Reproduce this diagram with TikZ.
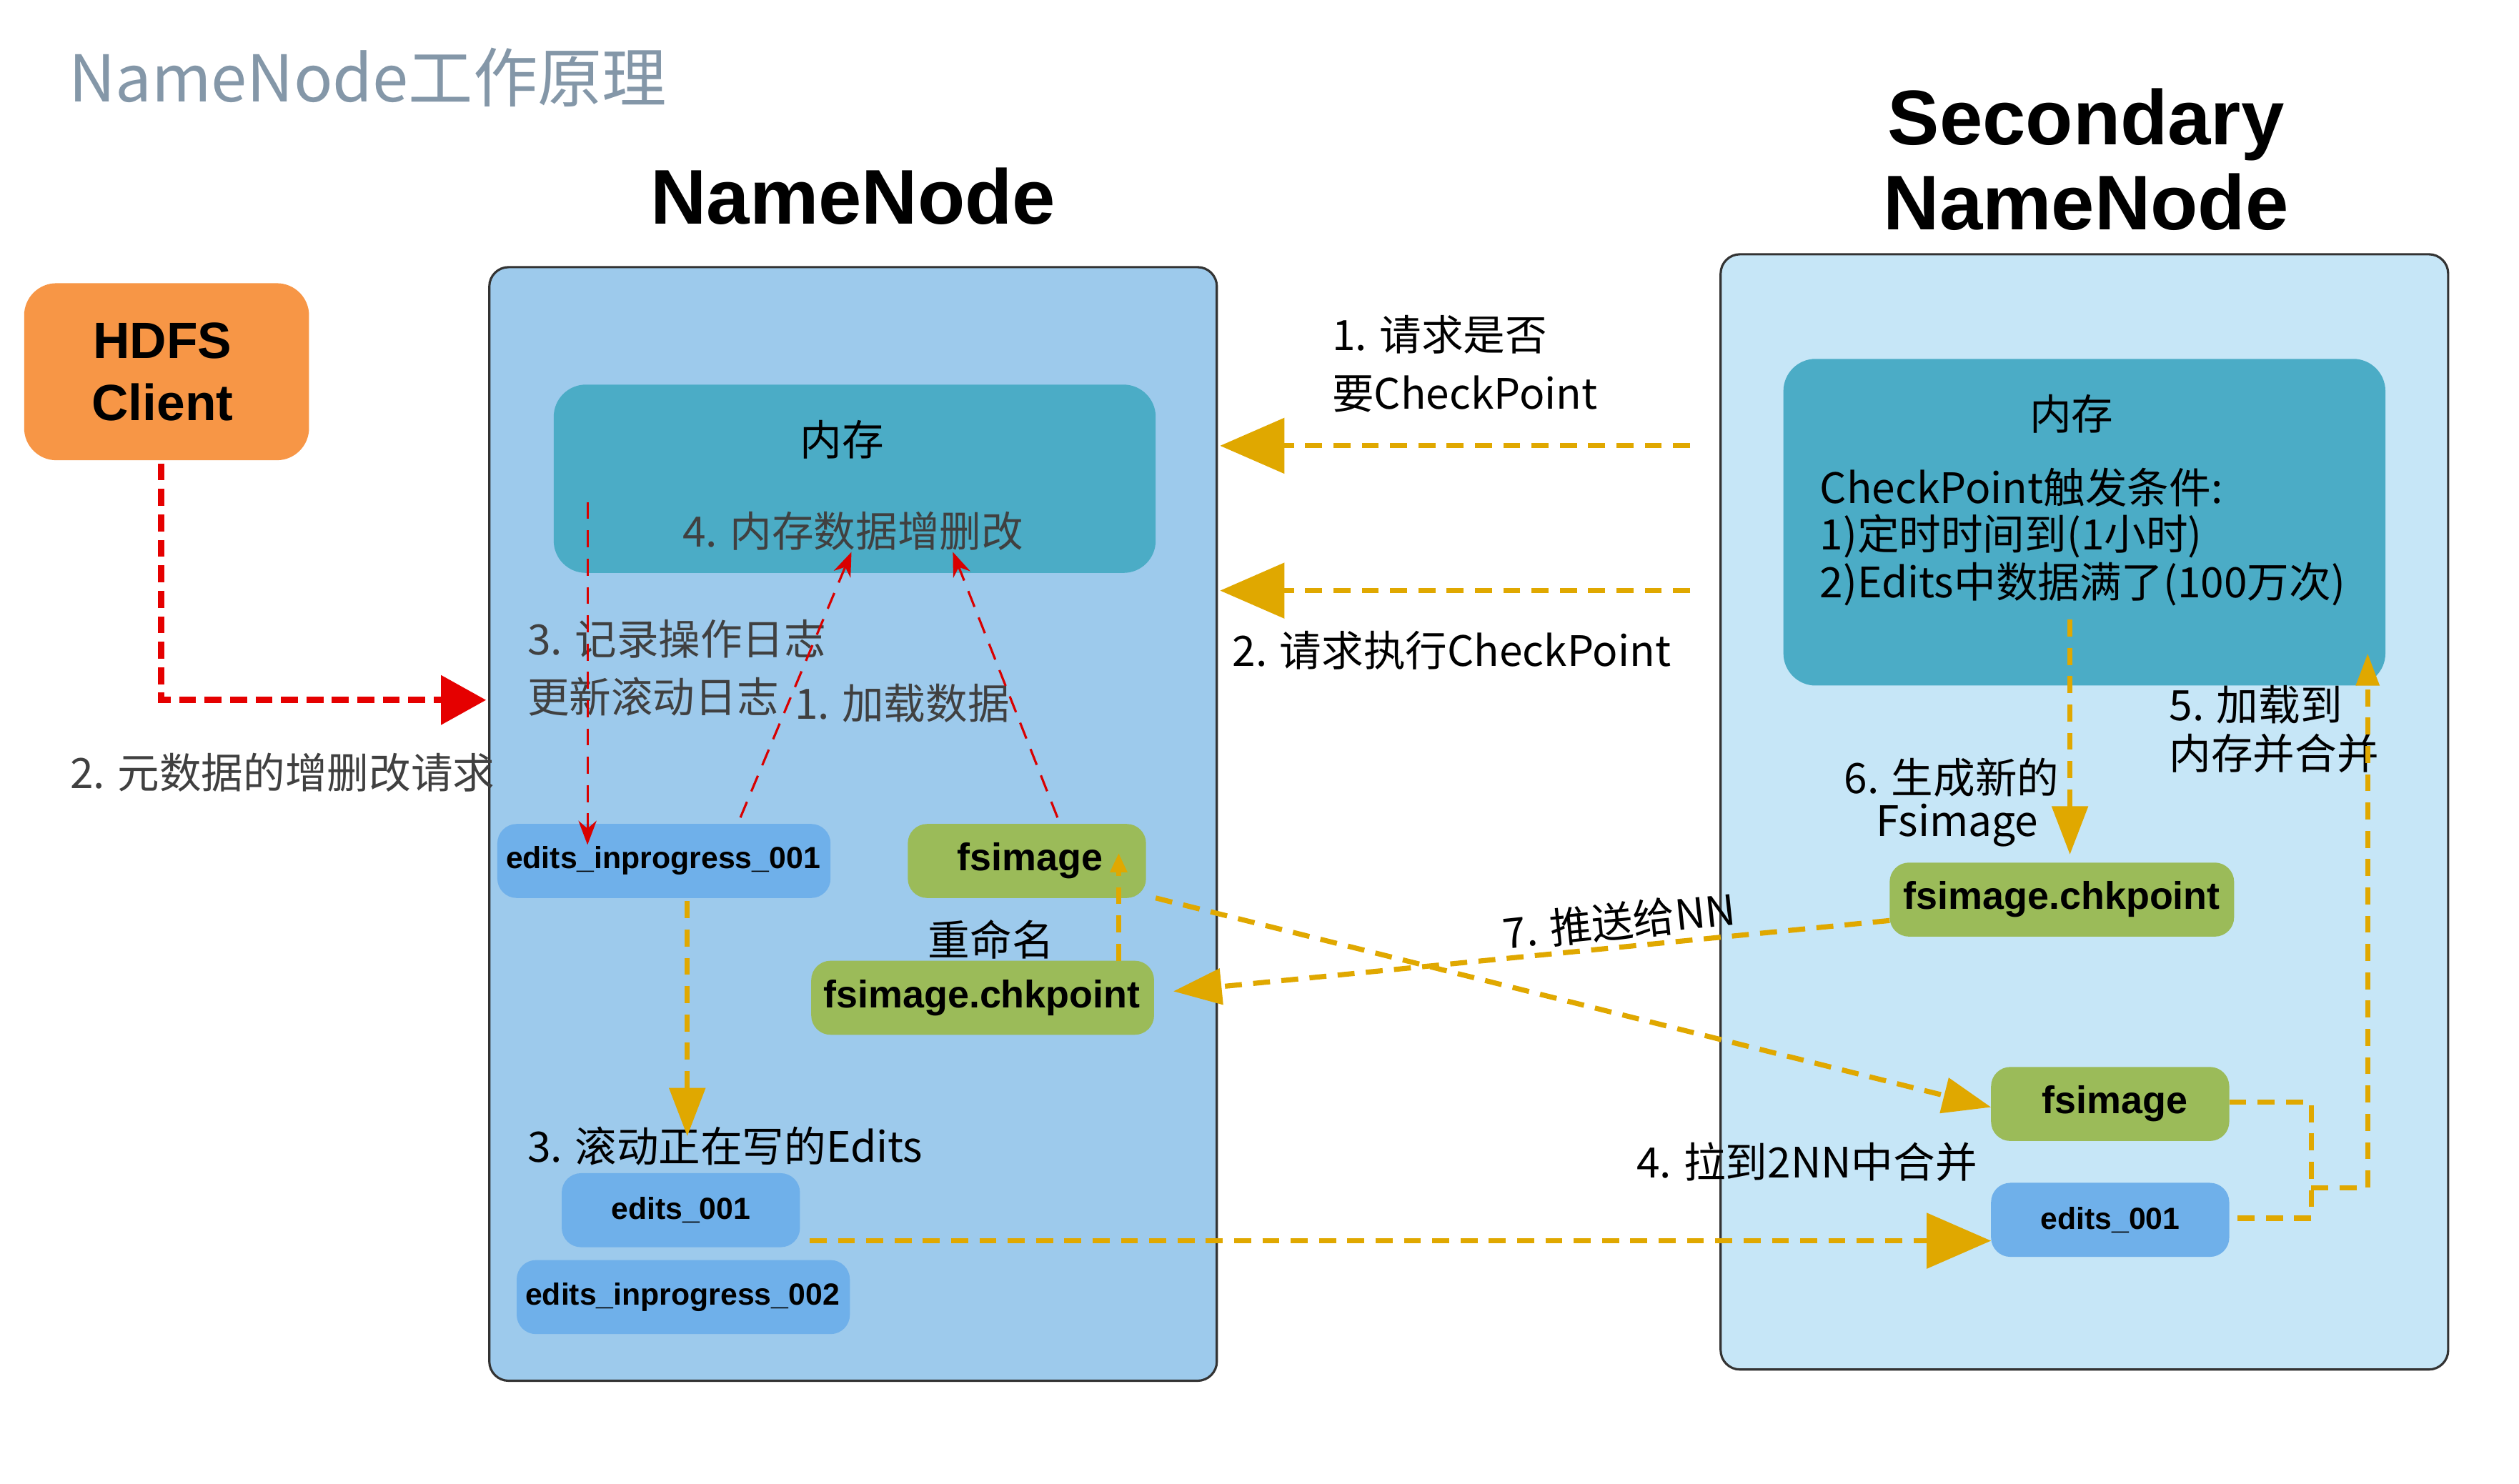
\documentclass[tikz,border=0pt]{standalone}
\usepackage{fontspec}
\setmainfont{Liberation Sans}
\newfontfamily\cjk{Noto Sans CJK SC}
\usetikzlibrary{arrows.meta}
\definecolor{nnbg}{HTML}{9DCAEC}
\definecolor{snbg}{HTML}{C6E6F7}
\definecolor{mem}{HTML}{4BACC6}
\definecolor{grn}{HTML}{9BBB59}
\definecolor{blu}{HTML}{6FB0EA}
\definecolor{org}{HTML}{F79646}
\definecolor{gold}{HTML}{E0A800}
\definecolor{ttl}{HTML}{8497A8}
\definecolor{dk}{HTML}{404040}
\tikzset{
 box/.style={rounded corners=0.12cm},
 lab/.style={font=\cjk\fontsize{7.4pt}{9pt}\selectfont, anchor=west, inner sep=0},
 glab/.style={lab, text=dk},
 bt/.style={font=\bfseries\fontsize{6.8pt}{8pt}\selectfont, inner sep=0},
 st/.style={font=\bfseries\fontsize{5.4pt}{6pt}\selectfont, inner sep=0},
 ga/.style={gold, dashed, line width=0.9pt, dash pattern=on 3pt off 2pt},
 big/.style={-{Triangle[length=0.4cm,width=0.34cm]}},
 mid/.style={-{Triangle[length=0.3cm,width=0.22cm]}},
 ra/.style={red!85!black, densely dashed, line width=0.4pt, -{Stealth[length=0.15cm]}},
}
\begin{document}
\begin{tikzpicture}[x=0.01cm,y=-0.01cm]
\useasboundingbox (0,0) rectangle (1565,922);
\fill[white] (0,0) rectangle (1565,922);
\node[font=\cjk\fontsize{11.4pt}{13pt}\selectfont, text=ttl, anchor=west, inner sep=0] (title) at (42,48) {NameNode工作原理};
\node[font=\bfseries\fontsize{13.7pt}{16pt}\selectfont] (nnt) at (530,122) {NameNode};
\node[font=\bfseries\fontsize{13.7pt}{15pt}\selectfont, align=center] (snt) at (1296,99) {Secondary\\NameNode};
% client
\fill[org, rounded corners=0.2cm] (15,176) rectangle (192,286);
\node[font=\bfseries\fontsize{9pt}{11pt}\selectfont, align=center] (client) at (101,231) {HDFS\\Client};
% big boxes
\draw[box, fill=nnbg, draw=black!80] (304,166) rectangle (756,858);
\draw[box, fill=snbg, draw=black!80] (1069,158) rectangle (1521,851);
% memories
\fill[mem, rounded corners=0.2cm] (344,239) rectangle (718,356);
\node[lab, anchor=center] (mem1) at (523,273) {内存};
\node[glab, anchor=center] (mem1b) at (530,330) {4. 内存数据增删改};
\fill[mem, rounded corners=0.2cm] (1108,223) rectangle (1482,426);
\node[lab, anchor=center] (mem2) at (1287,257) {内存};
\node[lab] (c1) at (1130,303) {CheckPoint触发条件:};
\node[lab] (c2) at (1130,333) {1)定时时间到(1小时)};
\node[lab] (c3) at (1130,363) {2)Edits中数据满了(100万次)};
% NN small boxes
\fill[blu, box] (309,512) rectangle (516,558); \node[st] (eip1) at (412,535) {edits\_inprogress\_001};
\fill[grn, box] (564,512) rectangle (712,558); \node[bt] (fs1) at (640,535) {fsimage};
\fill[grn, box] (504,597) rectangle (717,643); \node[bt] (fc1) at (610,620) {fsimage.chkpoint};
\fill[blu, box] (349,729) rectangle (497,775); \node[st] (e1) at (423,752) {edits\_001};
\fill[blu, box] (321,783) rectangle (528,829); \node[st] (eip2) at (424,806) {edits\_inprogress\_002};
% SNN small boxes
\fill[grn, box] (1174,536) rectangle (1388,582); \node[bt] (fc2) at (1281,559) {fsimage.chkpoint};
\fill[grn, box] (1237,663) rectangle (1385,709); \node[bt] (fs2) at (1314,686) {fsimage};
\fill[blu, box] (1237,735) rectangle (1385,781); \node[st] (e2) at (1311,758) {edits\_001};
% labels
\node[lab] (l1) at (576,584) {重命名};
\node[lab] (l2) at (327,712) {3. 滚动正在写的Edits};
\node[glab] (l3) at (327,397) {3. 记录操作日志};
\node[glab] (l4) at (327,433) {更新滚动日志};
\node[glab] (l5) at (493,437) {1. 加载数据};
\node[glab] (l6) at (43,480) {2. 元数据的增删改请求};
\node[lab] (l7) at (1145,483) {6. 生成新的};
\node[lab] (l8) at (1165,513) {Fsimage};
\node[lab] (l9) at (1347,438) {5. 加载到};
\node[lab] (l10) at (1347,468) {内存并合并};
\node[lab] (l11) at (827,208) {1. 请求是否};
\node[lab] (l12) at (827,245) {要CheckPoint};
\node[lab] (l13) at (765,404) {2. 请求执行CheckPoint};
\node[lab, rotate=6] (l14) at (933,580) {7. 推送给NN};
\node[lab] (l15) at (1016,722) {4. 拉到2NN中合并};
% coordinates
\coordinate (ca) at (100,288); \coordinate (cb) at (100,435); \coordinate (cc) at (302,435);
\coordinate (r1a) at (1050,277); \coordinate (r1b) at (758,277);
\coordinate (r2a) at (1050,367); \coordinate (r2b) at (758,367);
\coordinate (m1) at (365,312); \coordinate (m2) at (365,525);
\coordinate (m3) at (460,508); \coordinate (m4) at (529,343);
\coordinate (m5) at (657,508); \coordinate (m6) at (592,343);
\coordinate (o1) at (427,560); \coordinate (o2) at (427,706);
\coordinate (o3) at (695,597); \coordinate (o4) at (695,530);
\coordinate (o5) at (1286,385); \coordinate (o6) at (1286,531);
\coordinate (o7) at (1174,572); \coordinate (o8) at (729,616);
\coordinate (o9) at (718,558); \coordinate (o10) at (1237,688);
\coordinate (o11) at (503,771); \coordinate (o12) at (1237,771);
\coordinate (p1) at (1385,685); \coordinate (p2) at (1436,685); \coordinate (p3) at (1436,757); \coordinate (p4) at (1387,757);
\coordinate (p5) at (1436,738); \coordinate (p6) at (1471,738); \coordinate (p7) at (1471,406);
% connectors
\draw[red!90!black, line width=1.1pt, dash pattern=on 3pt off 1.5pt, -{Triangle[length=0.28cm,width=0.3cm]}] (ca) -- (cb) -- (cc);
\draw[ga, big] (r1a) -- (r1b);
\draw[ga, big] (r2a) -- (r2b);
\draw[ra] (m1) -- (m2);
\draw[ra] (m3) -- (m4);
\draw[ra] (m5) -- (m6);
\draw[ga, mid] (o1) -- (o2);
\draw[ga, -{Triangle[length=0.12cm,width=0.1cm]}] (o3) -- (o4);
\draw[ga, mid] (o5) -- (o6);
\draw[ga, mid] (o7) -- (o8);
\draw[ga, mid] (o9) -- (o10);
\draw[ga, big] (o11) -- (o12);
\draw[ga] (p1) -- (p2) -- (p3) -- (p4);
\draw[ga, -{Triangle[length=0.2cm,width=0.14cm]}] (p5) -- (p6) -- (p7);
\end{tikzpicture}
\end{document}
